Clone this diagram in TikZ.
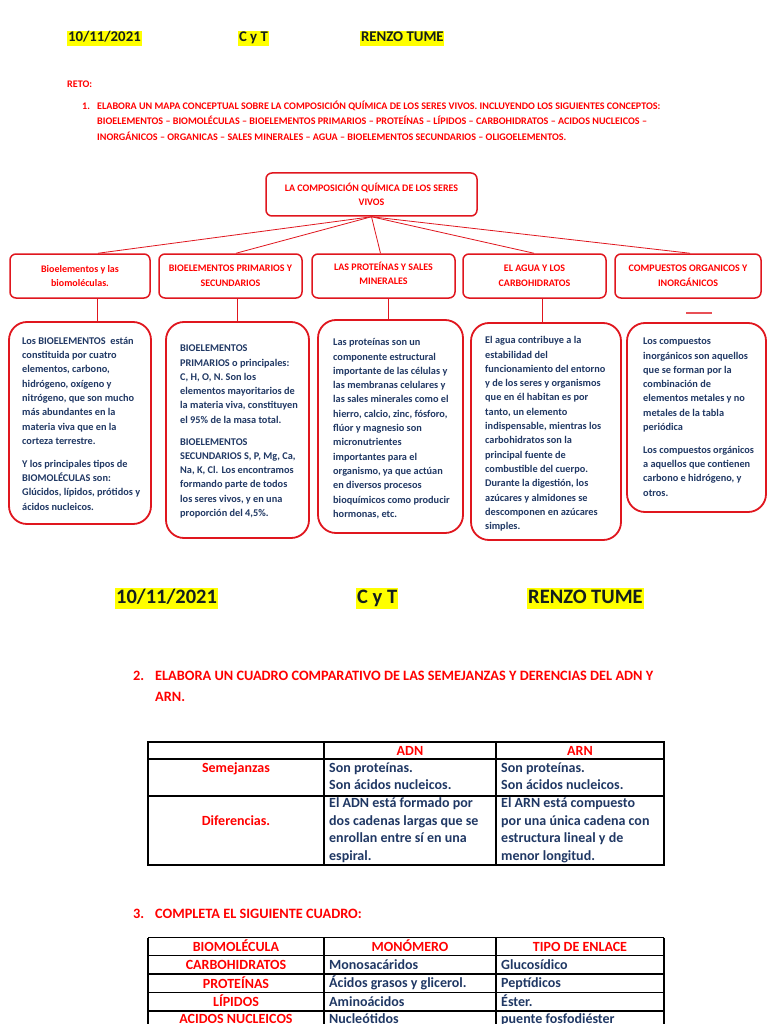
\documentclass[tikz,border=0pt]{standalone}
\usepackage{fontspec}
\setmainfont{Carlito}
\usetikzlibrary{calc}
\definecolor{mred}{HTML}{FF0000}
\definecolor{bred}{HTML}{E0161E}
\definecolor{navy}{HTML}{203864}
\definecolor{hl}{HTML}{FFFF00}
\definecolor{ink}{HTML}{141E1E}
\newcommand\fs[2]{\fontsize{#1}{#2}\selectfont\bfseries}
\newcommand\fst{\rule{0pt}{10pt}}
\newcommand\fsT{\rule{0pt}{11pt}}
\begin{document}
\begin{tikzpicture}[x=1pt,y=-1pt,
  hdrA/.style={fill=hl,text=ink,inner xsep=0.8pt,inner ysep=0pt,text height=11pt,text depth=4pt,anchor=base west,font=\fs{14.8}{18}},
  hdrB/.style={fill=hl,text=ink,inner xsep=1pt,inner ysep=0pt,text height=15.5pt,text depth=5pt,anchor=base west,font=\fs{20.5}{24}},
  redline/.style={text=mred,inner sep=0pt,anchor=base west},
  reto/.style={redline,font=\fs{10.1}{15.5}},
  item/.style={redline,font=\fs{14.3}{21}},
  mapbox/.style={draw=bred,line width=1.5pt,rounded corners=6pt,text=mred,align=center,inner sep=2pt,font=\fs{10}{14.5}},
  infobox/.style={draw=bred,line width=1.8pt,rounded corners=18pt,inner sep=0pt},
  infotext/.style={text=navy,align=left,inner sep=0pt,anchor=north west,font=\fs{10.3}{14.3}},
  conn/.style={draw=bred,line width=0.8pt},
  tline/.style={draw=black,line width=1.1pt},
  thead/.style={text=mred,inner sep=0pt,anchor=base,font=\fs{14}{17.5}},
  tcell/.style={text=navy,inner sep=0pt,anchor=base west,font=\fs{14}{17.5}},
  tmulti/.style={text=navy,inner sep=0pt,anchor=north west,align=left,font=\fs{14}{17.5}},
]
\useasboundingbox (0,0) rectangle (768,1024);
\fill[white] (0,0) rectangle (768,1024);

% header 1
\node[hdrA] (h1a) at (67,41.7) {10/11/2021};
\node[hdrA] (h1b) at (238,41.7) {C y T};
\node[hdrA] (h1c) at (360,41.7) {RENZO TUME};

% reto
\node[reto] (reto) at (67,87.2) {RETO:};
\node[reto] (n1) at (82,109.2) {1.};
\node[reto,anchor=north west,align=left] (retotxt) at (97,99.2) {\fst ELABORA UN MAPA CONCEPTUAL SOBRE LA COMPOSICIÓN QUÍMICA DE LOS SERES VIVOS. INCLUYENDO LOS SIGUIENTES CONCEPTOS:\\
BIOELEMENTOS – BIOMOLÉCULAS – BIOELEMENTOS PRIMARIOS – PROTEÍNAS – LÍPIDOS – CARBOHIDRATOS – ACIDOS NUCLEICOS –\\
INORGÁNICOS – ORGANICAS – SALES MINERALES – AGUA – BIOELEMENTOS SECUNDARIOS – OLIGOELEMENTOS.};

% concept map
\node[mapbox,minimum width=211pt,minimum height=43pt] (top) at (371.5,194.5) {LA COMPOSICIÓN QUÍMICA DE LOS SERES\\VIVOS};
\node[mapbox,minimum width=140pt,minimum height=44pt] (b1) at (80,276) {Bioelementos y las\\biomoléculas.};
\node[mapbox,minimum width=143pt,minimum height=44pt] (b2) at (230.5,276) {BIOELEMENTOS PRIMARIOS Y\\SECUNDARIOS};
\node[mapbox,minimum width=143pt,minimum height=44pt] (b3) at (383.5,276) {LAS PROTEÍNAS Y SALES\\MINERALES\\[-9pt]};
\node[mapbox,minimum width=143pt,minimum height=44pt] (b4) at (534.5,276) {EL AGUA Y LOS\\CARBOHIDRATOS};
\node[mapbox,minimum width=146pt,minimum height=44pt] (b5) at (688,276) {COMPUESTOS ORGANICOS Y\\INORGÁNICOS};

\draw[conn] (top.south) -- ([xshift=18pt]b1.north);
\draw[conn] (top.south) -- ([xshift=5.5pt]b2.north);
\draw[conn] (top.south) -- ([xshift=-3pt]b3.north);
\draw[conn] (top.south) -- ([xshift=-0.5pt]b4.north);
\draw[conn] (top.south) -- ([xshift=2pt]b5.north);

\node[infobox,minimum width=142pt,minimum height=202pt] (A) at (80,423) {};
\node[infobox,minimum width=143pt,minimum height=216pt] (B) at (237.5,430) {};
\node[infobox,minimum width=145pt,minimum height=213pt] (C) at (390.5,426.5) {};
\node[infobox,minimum width=150pt,minimum height=217pt] (D) at (546,431.5) {};
\node[infobox,minimum width=139pt,minimum height=189pt] (E) at (696.5,417.5) {};

\draw[conn] (b1.south -| 97,0) -- (A.north -| 97,0);
\draw[conn] (b2.south -| 237,0) -- (B.north -| 237,0);
\draw[conn] (b3.south -| 388,0) -- (C.north -| 388,0);
\draw[conn] (b4.south -| 542,0) -- (D.north -| 542,0);
\draw[draw=bred!75,line width=1.2pt] (686,313) -- (712,313);

\node[infotext] (At) at (22,334) {\fst Los BIOELEMENTOS\ \ están\\
constituida por cuatro\\
elementos, carbono,\\
hidrógeno, oxígeno y\\
nitrógeno, que son mucho\\
más abundantes en la\\
materia viva que en la\\
corteza terrestre.\\[8.5pt]
Y los principales tipos de\\
BIOMOLÉCULAS son:\\
Glúcidos, lípidos, prótidos y\\
ácidos nucleicos.};

\node[infotext] (Bt) at (180,341.5) {\fst BIOELEMENTOS\\
PRIMARIOS o principales:\\
C, H, O, N. Son los\\
elementos mayoritarios de\\
la materia viva, constituyen\\
el 95\% de la masa total.\\[7.5pt]
BIOELEMENTOS\\
SECUNDARIOS S, P, Mg, Ca,\\
Na, K, Cl. Los encontramos\\
formando parte de todos\\
los seres vivos, y en una\\
proporción del 4,5\%.};

\node[infotext] (Ct) at (333,335.5) {\fst Las proteínas son un\\
componente estructural\\
importante de las células y\\
las membranas celulares y\\
las sales minerales como el\\
hierro, calcio, zinc, fósforo,\\
flúor y magnesio son\\
micronutrientes\\
importantes para el\\
organismo, ya que actúan\\
en diversos procesos\\
bioquímicos como producir\\
hormonas, etc.};

\node[infotext] (Dt) at (485,333.5) {\fst El agua contribuye a la\\
estabilidad del\\
funcionamiento del entorno\\
y de los seres y organismos\\
que en él habitan es por\\
tanto, un elemento\\
indispensable, mientras los\\
carbohidratos son la\\
principal fuente de\\
combustible del cuerpo.\\
Durante la digestión, los\\
azúcares y almidones se\\
descomponen en azúcares\\
simples.};

\node[infotext] (Et) at (643,334.5) {\fst Los compuestos\\
inorgánicos son aquellos\\
que se forman por la\\
combinación de\\
elementos metales y no\\
metales de la tabla\\
periódica\\[8.5pt]
Los compuestos orgánicos\\
a aquellos que contienen\\
carbono e hidrógeno, y\\
otros.};

% header 2
\node[hdrB] (h2a) at (115,603.6) {10/11/2021};
\node[hdrB] (h2b) at (356,603.6) {C y T};
\node[hdrB] (h2c) at (527,603.6) {RENZO TUME};

% item 2
\node[item] (n2) at (133,680.6) {2.};
\node[item] (i2a) at (155,680.6) {ELABORA UN CUADRO COMPARATIVO DE LAS SEMEJANZAS Y DERENCIAS DEL ADN Y};
\node[item] (i2b) at (155,701.6) {ARN.};

% table 1
\draw[tline] (148,742) rectangle (664,865);
\draw[tline] (148,759) -- (664,759);
\draw[tline] (148,796) -- (664,796);
\draw[tline] (324,742) -- (324,865);
\draw[tline] (496,742) -- (496,865);
\node[thead] (adn) at (410,755) {ADN};
\node[thead] (arn) at (580,755) {ARN};
\node[thead] (sem) at (236,772) {Semejanzas};
\node[thead] (dif) at (236,825) {Diferencias.};
\node[tmulti] (s1) at (329,761) {\fsT Son proteínas.\\Son ácidos nucleicos.};
\node[tmulti] (s2) at (501,761) {\fsT Son proteínas.\\Son ácidos nucleicos.};
\node[tmulti] (d1) at (329,796.5) {\fsT El ADN está formado por\\dos cadenas largas que se\\enrollan entre sí en una\\espiral.};
\node[tmulti] (d2) at (501,796.5) {\fsT El ARN está compuesto\\por una única cadena con\\estructura lineal y de\\menor longitud.};

% item 3
\node[item] (n3) at (133,918.5) {3.};
\node[item] (i3) at (155,918.5) {COMPLETA EL SIGUIENTE CUADRO:};

% table 2
\draw[tline] (148,937.5) -- (664,937.5);
\foreach \yy in {955.5,974,992.5,1011} \draw[tline] (148,\yy) -- (664,\yy);
\foreach \xx in {148,324,496,664} \draw[tline] (\xx,937.5) -- (\xx,1030);
\node[thead] (th1) at (236,951.5) {BIOMOLÉCULA};
\node[thead] (th2) at (410,951.5) {MONÓMERO};
\node[thead] (th3) at (580,951.5) {TIPO DE ENLACE};
\node[thead] (r1) at (236,969.5) {CARBOHIDRATOS};
\node[tcell] (r1b) at (329,969) {Monosacáridos};
\node[tcell] (r1c) at (501,969) {Glucosídico};
\node[thead] (r2) at (236,988) {PROTEÍNAS};
\node[tcell] (r2b) at (329,987.5) {Ácidos grasos y glicerol.};
\node[tcell] (r2c) at (501,987.5) {Peptídicos};
\node[thead] (r3) at (236,1006.5) {LÍPIDOS};
\node[tcell] (r3b) at (329,1006) {Aminoácidos};
\node[tcell] (r3c) at (501,1006) {Éster.};
\node[thead] (r4) at (236,1023.5) {ACIDOS NUCLEICOS};
\node[tcell] (r4b) at (329,1023) {Nucleótidos};
\node[tcell] (r4c) at (501,1023) {puente fosfodiéster};
\end{tikzpicture}
\end{document}
